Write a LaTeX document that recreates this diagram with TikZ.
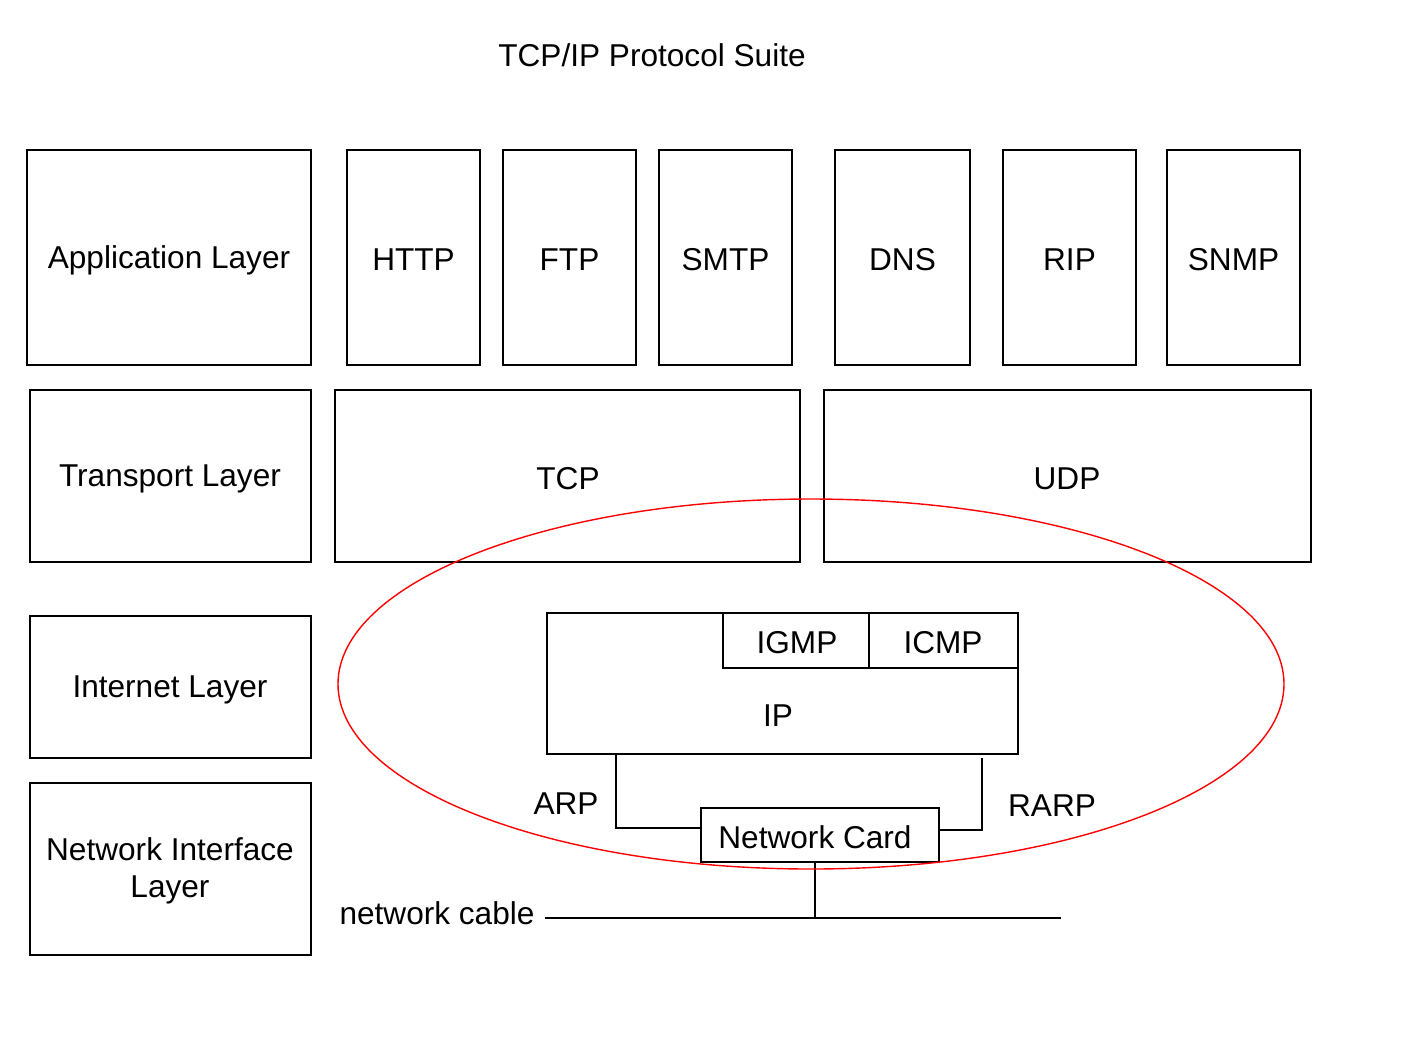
\documentclass[tikz,border=0pt]{standalone}
\usepackage{fontspec}
\setmainfont{Liberation Sans}
\begin{document}
\begin{tikzpicture}[x=0.5pt,y=-0.5pt,
  box/.style={draw,line width=0.7pt,inner sep=0pt},
  lbl/.style={font=\fontsize{15.8}{18.5}\selectfont},
  ln/.style={line width=0.7pt}]
\useasboundingbox (0,0) rectangle (1404,1041);
\node[lbl] (title) at (652,55) {TCP/IP Protocol Suite};
\draw[box] (27,150) rectangle (311,365); \node[lbl] (app) at (169,260) {Application Layer};
\foreach \a/\b/\t [count=\i] in {347/480/HTTP,503/636/FTP,659/792/SMTP,835/970/DNS,1003/1136/RIP,1167/1300/SNMP}{
  \draw[box] (\a,150) rectangle (\b,365);
  \node[lbl] (p\i) at ({(\a+\b)/2},260) {\t};}
\draw[box] (30,390) rectangle (311,562); \node[lbl] (tr) at (170,479) {Transport Layer};
\draw[box] (335,390) rectangle (800,562); \node[lbl] (tcp) at (568,479) {TCP};
\draw[box] (824,390) rectangle (1311,562); \node[lbl] (udp) at (1067,479) {UDP};
\draw[box] (30,616) rectangle (311,758); \node[lbl] (inl) at (170,690) {Internet Layer};
\draw[box] (30,783) rectangle (311,955);
\node[lbl,align=center] (nil) at (170,871) {Network Interface\\Layer};
\draw[box] (547,613) rectangle (1018,754); \node[lbl] (ip) at (778,716) {IP};
\draw[box] (723,613) rectangle (869,668); \node[lbl] (igmp) at (797,643) {IGMP};
\draw[box] (869,613) rectangle (1018,668); \node[lbl] (icmp) at (943,643) {ICMP};
\draw[box] (701,808) rectangle (939,862); \node[lbl] (nc) at (815,837) {Network Card};
\node[lbl] (arp) at (566,804) {ARP};
\node[lbl] (rarp) at (1052,806) {RARP};
\node[lbl] (cab) at (437,913) {network cable};
\draw[ln] (616,754) |- (701,828);
\draw[ln] (939,830) -| (982,758);
\draw[ln] (815,862) -- (815,918);
\draw[ln] (545,918) -- (1061,918);
\draw[red,line width=0.7pt] (811,684) ellipse [x radius=473,y radius=185];
\end{tikzpicture}
\end{document}
